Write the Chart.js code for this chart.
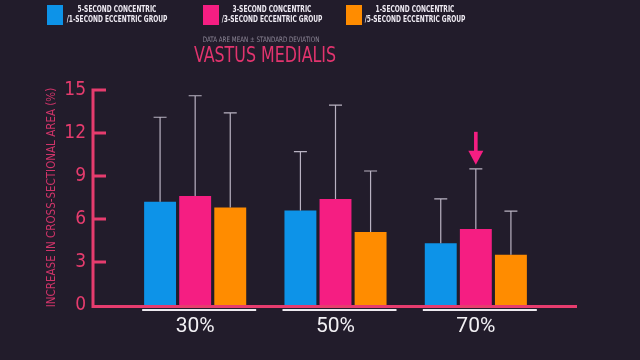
<!DOCTYPE html>
<html><head><meta charset="utf-8">
<script src="https://cdn.jsdelivr.net/npm/chart.js@4.4.1/dist/chart.umd.min.js"></script>
<style>html,body{margin:0;padding:0;background:#221c2b;}#wrap{width:640px;height:360px;position:relative;}</style>
</head><body><div id="wrap"><canvas id="c" width="640" height="360"></canvas></div>
<script>
const categories = ["30%", "50%", "70%"];
const seriesLabels = [
  ["5-SECOND CONCENTRIC", "/1-SECOND ECCENTRIC GROUP"],
  ["3-SECOND CONCENTRIC", "/3-SECOND ECCENTRIC GROUP"],
  ["1-SECOND CONCENTRIC", "/5-SECOND ECCENTRIC GROUP"]
];
const meanFast = [7.2, 6.6, 4.3];
const meanMid = [7.6, 7.4, 5.3];
const meanSlow = [6.8, 5.1, 3.5];
const sdFast = [5.9, 4.1, 3.1];
const sdMid = [7.0, 6.55, 4.2];
const sdSlow = [6.6, 4.25, 3.05];
const yTicks = [0, 3, 6, 9, 12, 15];
const titleText = "VASTUS MEDIALIS";
const subtitleText = "DATA ARE MEAN \u00B1 STANDARD DEVIATION";
const yAxisTitle = "INCREASE IN CROSS-SECTIONAL AREA (%)";
const highlight = {series: 1, category: 2};

const colors = ["#0d93e8", "#f51e82", "#ff8c00"];
const PINK = "#e63c6e";
const NARROW = "'Liberation Sans Narrow', 'DejaVu Sans Condensed', 'Roboto', sans-serif";

const sds = [sdFast, sdMid, sdSlow];

function squeezedText(ctx, text, cx, cy, sx) {
  ctx.save();
  ctx.translate(cx, cy);
  ctx.scale(sx, 1);
  ctx.fillText(text, 0, 0);
  ctx.restore();
}

const decorPlugin = {
  id: 'decor',
  afterDatasetsDraw(chart) {
    const ctx = chart.ctx;
    const x = chart.scales.x, y = chart.scales.y;
    const y0 = y.getPixelForValue(0);
    chart.data.datasets.forEach((ds, di) => {
      const meta = chart.getDatasetMeta(di);
      meta.data.forEach((bar, i) => {
        const top = y.getPixelForValue(ds.data[i]);
        const et = y.getPixelForValue(ds.data[i] + sds[di][i]);
        ctx.save();
        ctx.strokeStyle = "#b9b2c2";
        ctx.lineWidth = 1.2;
        ctx.beginPath();
        ctx.moveTo(bar.x, top); ctx.lineTo(bar.x, et);
        ctx.moveTo(bar.x - 6.5, et); ctx.lineTo(bar.x + 6.5, et);
        ctx.stroke();
        ctx.restore();
      });
    });
    ctx.save();
    ctx.strokeStyle = PINK;
    ctx.lineWidth = 3;
    const axX = 93;
    ctx.beginPath();
    ctx.moveTo(axX, y.getPixelForValue(15) - 1.5);
    ctx.lineTo(axX, y0 + 1.5);
    ctx.lineTo(577, y0 + 1.5);
    yTicks.forEach(t => {
      if (t === 0) return;
      const py = y.getPixelForValue(t);
      ctx.moveTo(axX - 1.5, py); ctx.lineTo(106, py);
    });
    ctx.stroke();
    ctx.strokeStyle = "#eeeaf0";
    ctx.lineWidth = 2;
    ctx.beginPath();
    categories.forEach((c, i) => {
      const cx = x.getPixelForValue(i) + 4;
      ctx.moveTo(cx - 57, 310); ctx.lineTo(cx + 57, 310);
    });
    ctx.stroke();
    const hm = chart.getDatasetMeta(highlight.series).data[highlight.category];
    const tipY = y.getPixelForValue(chart.data.datasets[highlight.series].data[highlight.category] + sds[highlight.series][highlight.category]) - 4;
    ctx.fillStyle = "#f51e82";
    ctx.fillRect(hm.x - 1.8, tipY - 33, 3.6, 20);
    ctx.beginPath();
    ctx.moveTo(hm.x - 7.5, tipY - 14);
    ctx.lineTo(hm.x + 7.5, tipY - 14);
    ctx.lineTo(hm.x, tipY);
    ctx.closePath();
    ctx.fill();
    ctx.restore();
  },
  afterDraw(chart) {
    const ctx = chart.ctx;
    ctx.save();
    const boxX = [47, 203, 346];
    const textX = [117, 272, 415];
    ctx.textAlign = 'center';
    ctx.textBaseline = 'middle';
    chart.data.datasets.forEach((ds, i) => {
      ctx.fillStyle = colors[i];
      ctx.fillRect(boxX[i], 5, 16, 20);
      ctx.fillStyle = "#f0ecf4";
      ctx.font = "bold 9px " + NARROW;
      seriesLabels[i].forEach((ln, k) => squeezedText(ctx, ln, textX[i], 9.5 + k * 10.5, 0.73));
    });
    ctx.fillStyle = "#8d8797";
    ctx.font = "7.5px " + NARROW;
    squeezedText(ctx, subtitleText, 261, 40, 0.83);
    ctx.fillStyle = "#e2346e";
    ctx.font = "21px " + NARROW;
    squeezedText(ctx, titleText, 265, 57, 0.84);
    ctx.restore();
  }
};

new Chart(document.getElementById('c'), {
  type: 'bar',
  data: {
    labels: categories,
    datasets: [
      {label: seriesLabels[0].join(' '), data: meanFast, backgroundColor: colors[0]},
      {label: seriesLabels[1].join(' '), data: meanMid, backgroundColor: colors[1]},
      {label: seriesLabels[2].join(' '), data: meanSlow, backgroundColor: colors[2]}
    ]
  },
  options: {
    responsive: false,
    animation: false,
    devicePixelRatio: 1,
    layout: {padding: {left: 0, right: 94, top: 90, bottom: 0}},
    datasets: {bar: {categoryPercentage: 0.75, barPercentage: 0.91}},
    plugins: {legend: {display: false}, title: {display: false}, tooltip: {enabled: false}},
    scales: {
      x: {
        grid: {display: false},
        border: {display: false},
        ticks: {color: "#f2f0f4", font: {family: "Roboto", size: 21}, padding: 1, maxRotation: 0},
        afterFit(s) { s.height = 55; }
      },
      y: {
        min: 0, max: 15,
        afterBuildTicks(s) { s.ticks = yTicks.map(v => ({value: v})); },
        grid: {display: false},
        border: {display: false},
        ticks: {color: PINK, font: {family: NARROW, size: 19}, padding: 31},
        title: {display: true, text: yAxisTitle, color: "#cf3469", font: {family: NARROW, size: 11.5}, padding: {top: 45, bottom: 0}},
        afterFit(s) { s.width = 125; }
      }
    }
  },
  plugins: [decorPlugin]
});
</script></body></html>
